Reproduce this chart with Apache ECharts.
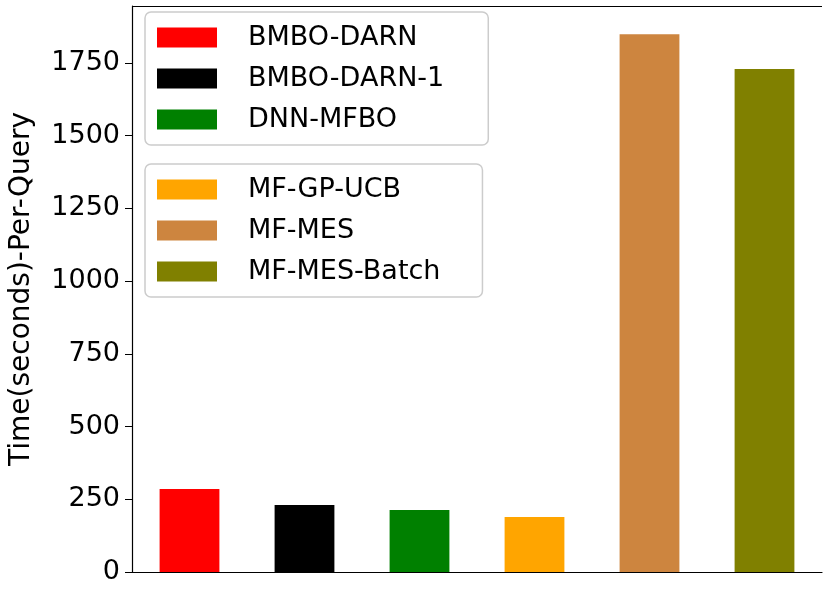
<!DOCTYPE html>
<html><head><meta charset="utf-8">
<script src="https://cdn.jsdelivr.net/npm/echarts@6/dist/echarts.min.js"></script>
<style>html,body{margin:0;padding:0;background:#fff}#c{width:831px;height:598px}</style>
</head><body><div id="c"></div>
<script>
const categories = ['BMBO-DARN','BMBO-DARN-1','DNN-MFBO','MF-GP-UCB','MF-MES','MF-MES-Batch'];
const values = [285, 230, 213, 189, 1849, 1729];
const colors = ['#ff0000','#000000','#008000','#ffa500','#cd853f','#808000'];
const yTicks = [0,250,500,750,1000,1250,1500,1750];
const chart = echarts.init(document.getElementById('c'));
const series = categories.map((n,i)=>({
  name:n, type:'bar', barWidth:'52%', barGap:'-100%',
  itemStyle:{color:colors[i]},
  data: categories.map((_,j)=> j===i ? values[i] : '-')
}));
const legendCommon = {orient:'vertical', left:145, itemWidth:60, itemHeight:20, itemGap:14,
  textStyle:{fontSize:27, color:'#000', fontFamily:'DejaVu Sans', padding:[0,0,0,26]},
  borderColor:'#ccc', borderWidth:1.5, borderRadius:6, backgroundColor:'rgba(255,255,255,0.8)', icon:'rect'};
chart.setOption({
  animation:false,
  grid:{left:128, right:9, top:6, bottom:26},
  legend:[
    Object.assign({top:12, data:categories.slice(0,3), padding:[12,44,12,12]}, legendCommon),
    Object.assign({top:164, data:categories.slice(3), padding:[12,42,12,12]}, legendCommon)
  ],
  xAxis:{type:'category', data:categories, axisLabel:{show:false}, axisTick:{show:false},
    axisLine:{lineStyle:{color:'#000', width:1.2}}},
  yAxis:{type:'value', min:0, max:1946, interval:250, name:'Time(seconds)-Per-Query',
    nameLocation:'middle', nameGap:96, nameTextStyle:{fontSize:28, color:'#000', fontFamily:'DejaVu Sans'},
    axisLabel:{fontSize:27, color:'#000', fontFamily:'DejaVu Sans', margin:12, customValues:yTicks, formatter:v=>String(v)},
    axisTick:{show:true, customValues:yTicks, length:7, lineStyle:{color:'#000'}},
    axisLine:{show:true, lineStyle:{color:'#000', width:1.2}}, splitLine:{show:false}},
  series: series.concat([{type:'line', data:[], markLine:{silent:true, symbol:'none', label:{show:false},
    lineStyle:{color:'#000', type:'solid', width:1.2}, data:[{yAxis:1946}]}}])
});
</script></body></html>
